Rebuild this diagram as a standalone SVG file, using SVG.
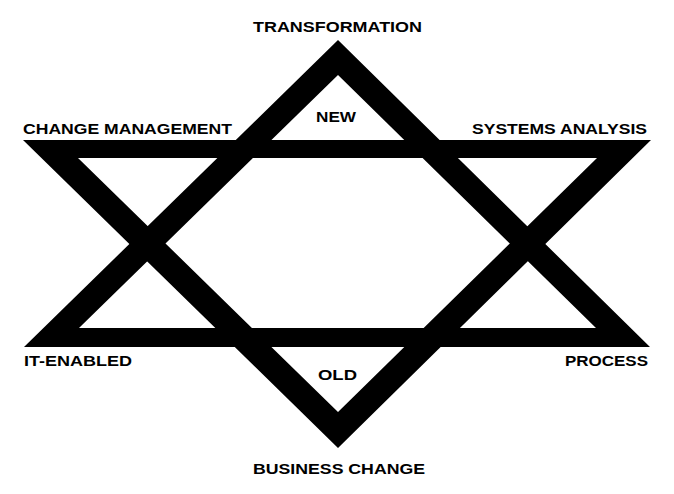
<svg xmlns="http://www.w3.org/2000/svg" width="674" height="494" viewBox="0 0 674 494">
  <style>
    .tri { fill: #000; fill-rule: evenodd; stroke: none; }
    .lbl { font-family: "Liberation Sans", Arial, Helvetica, sans-serif; font-weight: bold; font-size: 15px; fill: #000; }
  </style>
  <rect x="0" y="0" width="674" height="494" fill="#fff"/>
  <g id="connectors">
    <path id="up-triangle" class="tri" d="M338,40 L650,347 L24,347 Z M338,75 L79,328 L596,328 Z"/>
    <path id="down-triangle" class="tri" d="M23,140 L651,140 L338,448 Z M78,158 L597,158 L338,412 Z"/>
  </g>
  <g id="transformation"><text class="lbl" x="253" y="32" textLength="169" lengthAdjust="spacingAndGlyphs">TRANSFORMATION</text></g>
  <g id="change-management"><text class="lbl" x="23" y="134" textLength="209" lengthAdjust="spacingAndGlyphs">CHANGE MANAGEMENT</text></g>
  <g id="systems-analysis"><text class="lbl" x="472" y="134" textLength="175" lengthAdjust="spacingAndGlyphs">SYSTEMS ANALYSIS</text></g>
  <g id="new"><text class="lbl" x="316" y="122" textLength="40" lengthAdjust="spacingAndGlyphs">NEW</text></g>
  <g id="it-enabled"><text class="lbl" x="24" y="366" textLength="108" lengthAdjust="spacingAndGlyphs">IT-ENABLED</text></g>
  <g id="process"><text class="lbl" x="565" y="366" textLength="83" lengthAdjust="spacingAndGlyphs">PROCESS</text></g>
  <g id="old"><text class="lbl" x="318" y="380" textLength="39" lengthAdjust="spacingAndGlyphs">OLD</text></g>
  <g id="business-change"><text class="lbl" x="253" y="474" textLength="172" lengthAdjust="spacingAndGlyphs">BUSINESS CHANGE</text></g>
</svg>
